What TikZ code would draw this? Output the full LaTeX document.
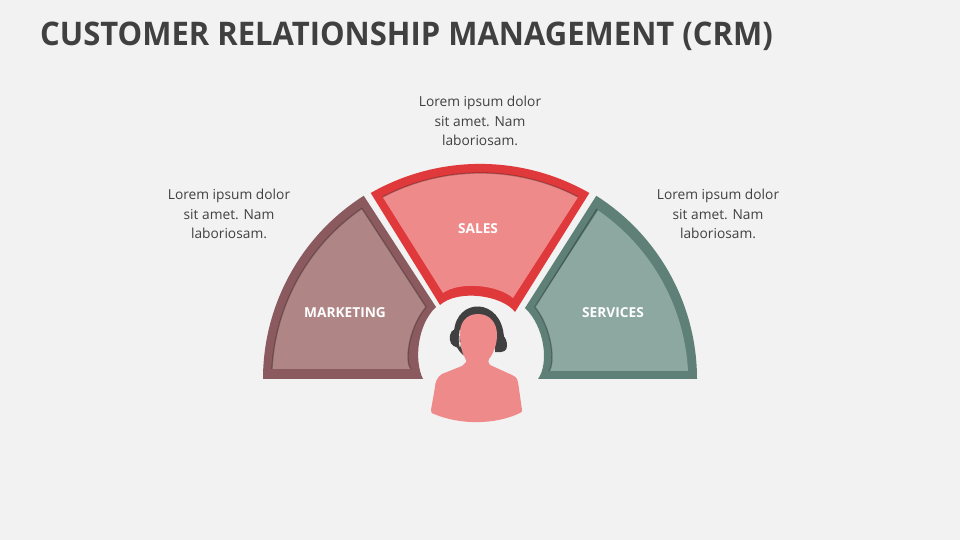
\documentclass[tikz,border=0pt]{standalone}
\usepackage{fontspec}
\setmainfont{Open Sans}
\definecolor{bgc}{HTML}{F2F2F2}
\definecolor{txt}{HTML}{404040}
\definecolor{mkd}{HTML}{8A5A5E}
\definecolor{mkl}{HTML}{B08585}
\definecolor{sad}{HTML}{E0393B}
\definecolor{sal}{HTML}{EF8A8A}
\definecolor{sed}{HTML}{5F8076}
\definecolor{sel}{HTML}{8CA8A0}
\tikzset{
  body/.style={text=txt,font=\fontsize{13.75}{19.2}\selectfont,align=center},
  lab/.style={text=white,font=\bfseries\fontsize{13.7}{16}\selectfont},
  inshadow/.style={draw=black,draw opacity=.28,line width=1.3pt,line join=round},
}
\begin{document}
\begin{tikzpicture}[x=1pt,y=1pt]
\useasboundingbox (0,0) rectangle (960,540);
\fill[bgc] (0,0) rectangle (960,540);
\node[text=txt,font=\bfseries\fontsize{32.5}{38}\selectfont,anchor=west,xscale=.953,inner sep=0pt] (title) at (40,504) {CUSTOMER RELATIONSHIP MANAGEMENT (CRM)};
% marketing
\fill[mkd] (263,161) arc[start angle=180,end angle=122.4,radius=217pt] -- (436,233) .. controls (417,215) and (414,179) .. (423,161) -- cycle;
\fill[mkl] (272,171) arc[start angle=177,end angle=124.5,radius=208pt] -- (426,233) .. controls (407,210) and (405,176) .. (411,171) -- cycle;
\draw[inshadow] (272,171) arc[start angle=177,end angle=124.5,radius=208pt] -- (426,233);
\draw[inshadow] (426,233) .. controls (407,210) and (405,176) .. (411,171);
% sales
\fill[sad] (370.7,347) arc[start angle=119.8,end angle=60.2,radius=220pt] -- (515,228) .. controls (502,245) and (458,251) .. (440,235) -- cycle;
\fill[sal] (382.7,343) arc[start angle=117.6,end angle=62.4,radius=210.9pt] -- (513,242) .. controls (498,255) and (460,259) .. (443,247) -- cycle;
\draw[inshadow] (382.7,343) arc[start angle=117.6,end angle=62.4,radius=210.9pt];
% services
\fill[sed] (697,161) arc[start angle=0,end angle=57.6,radius=217pt] -- (525,232) .. controls (545,213) and (549,176) .. (538,161) -- cycle;
\fill[sel] (688,169) arc[start angle=3,end angle=55.5,radius=208pt] -- (535,233) .. controls (553,210) and (555,176) .. (549,169) -- cycle;
\draw[inshadow] (549,169) .. controls (555,176) and (553,210) .. (535,233) -- (597,331);
% person
\fill[txt] (454,208) .. controls (456,243) and (502,243) .. (504,202) -- (495,200) -- (470,190) -- (458,200) -- cycle;
\fill[txt] (450,200) .. controls (449,208) and (453,211) .. (457,211) -- (460,206) -- (460,192) .. controls (456,192) and (450,195) .. (450,200) -- cycle;
\fill[txt] (495,205) -- (502,205) .. controls (506,203) and (507,198) .. (507,194) .. controls (507,189) and (503,187) .. (495,188) -- cycle;
\fill[txt] (456,195) .. controls (460,185) and (468,181) .. (476,179) .. controls (468,185) and (462,188) .. (460,195) -- cycle;
\fill[sal] (478,226) .. controls (466,226) and (460,217) .. (460,207) .. controls (460,195) and (462,187) .. (465,182)
  .. controls (467,180) and (467,178) .. (464,176) -- (462,174) -- (442,166)
  .. controls (437,163) and (435,157) .. (435,153) -- (431,130) .. controls (431,127) and (432,126) .. (434,126)
  .. controls (460,115) and (495,115) .. (520,127) .. controls (522,128) and (522,129) .. (522,130)
  -- (518,158) .. controls (517,163) and (514,164) .. (512,165) -- (490,175) .. controls (488,177) and (488,179) .. (489,181)
  .. controls (493,186) and (497,195) .. (497,205) .. controls (497,217) and (490,226) .. (478,226) -- cycle;
\draw[bgc,line width=.7pt] (460,210) .. controls (459,203) and (459,198) .. (460,193);
\node[lab] (mk) at (345,227.7) {MARKETING};
\node[lab] (sa) at (478,311.7) {SALES};
\node[lab] (se) at (613,227.7) {SERVICES};
\node[body] (t1) at (229,326) {Lorem ipsum dolor\\sit amet. Nam\\laboriosam.};
\node[body] (t2) at (480,419) {Lorem ipsum dolor\\sit amet. Nam\\laboriosam.};
\node[body] (t3) at (718,326) {Lorem ipsum dolor\\sit amet. Nam\\laboriosam.};
\end{tikzpicture}
\end{document}
